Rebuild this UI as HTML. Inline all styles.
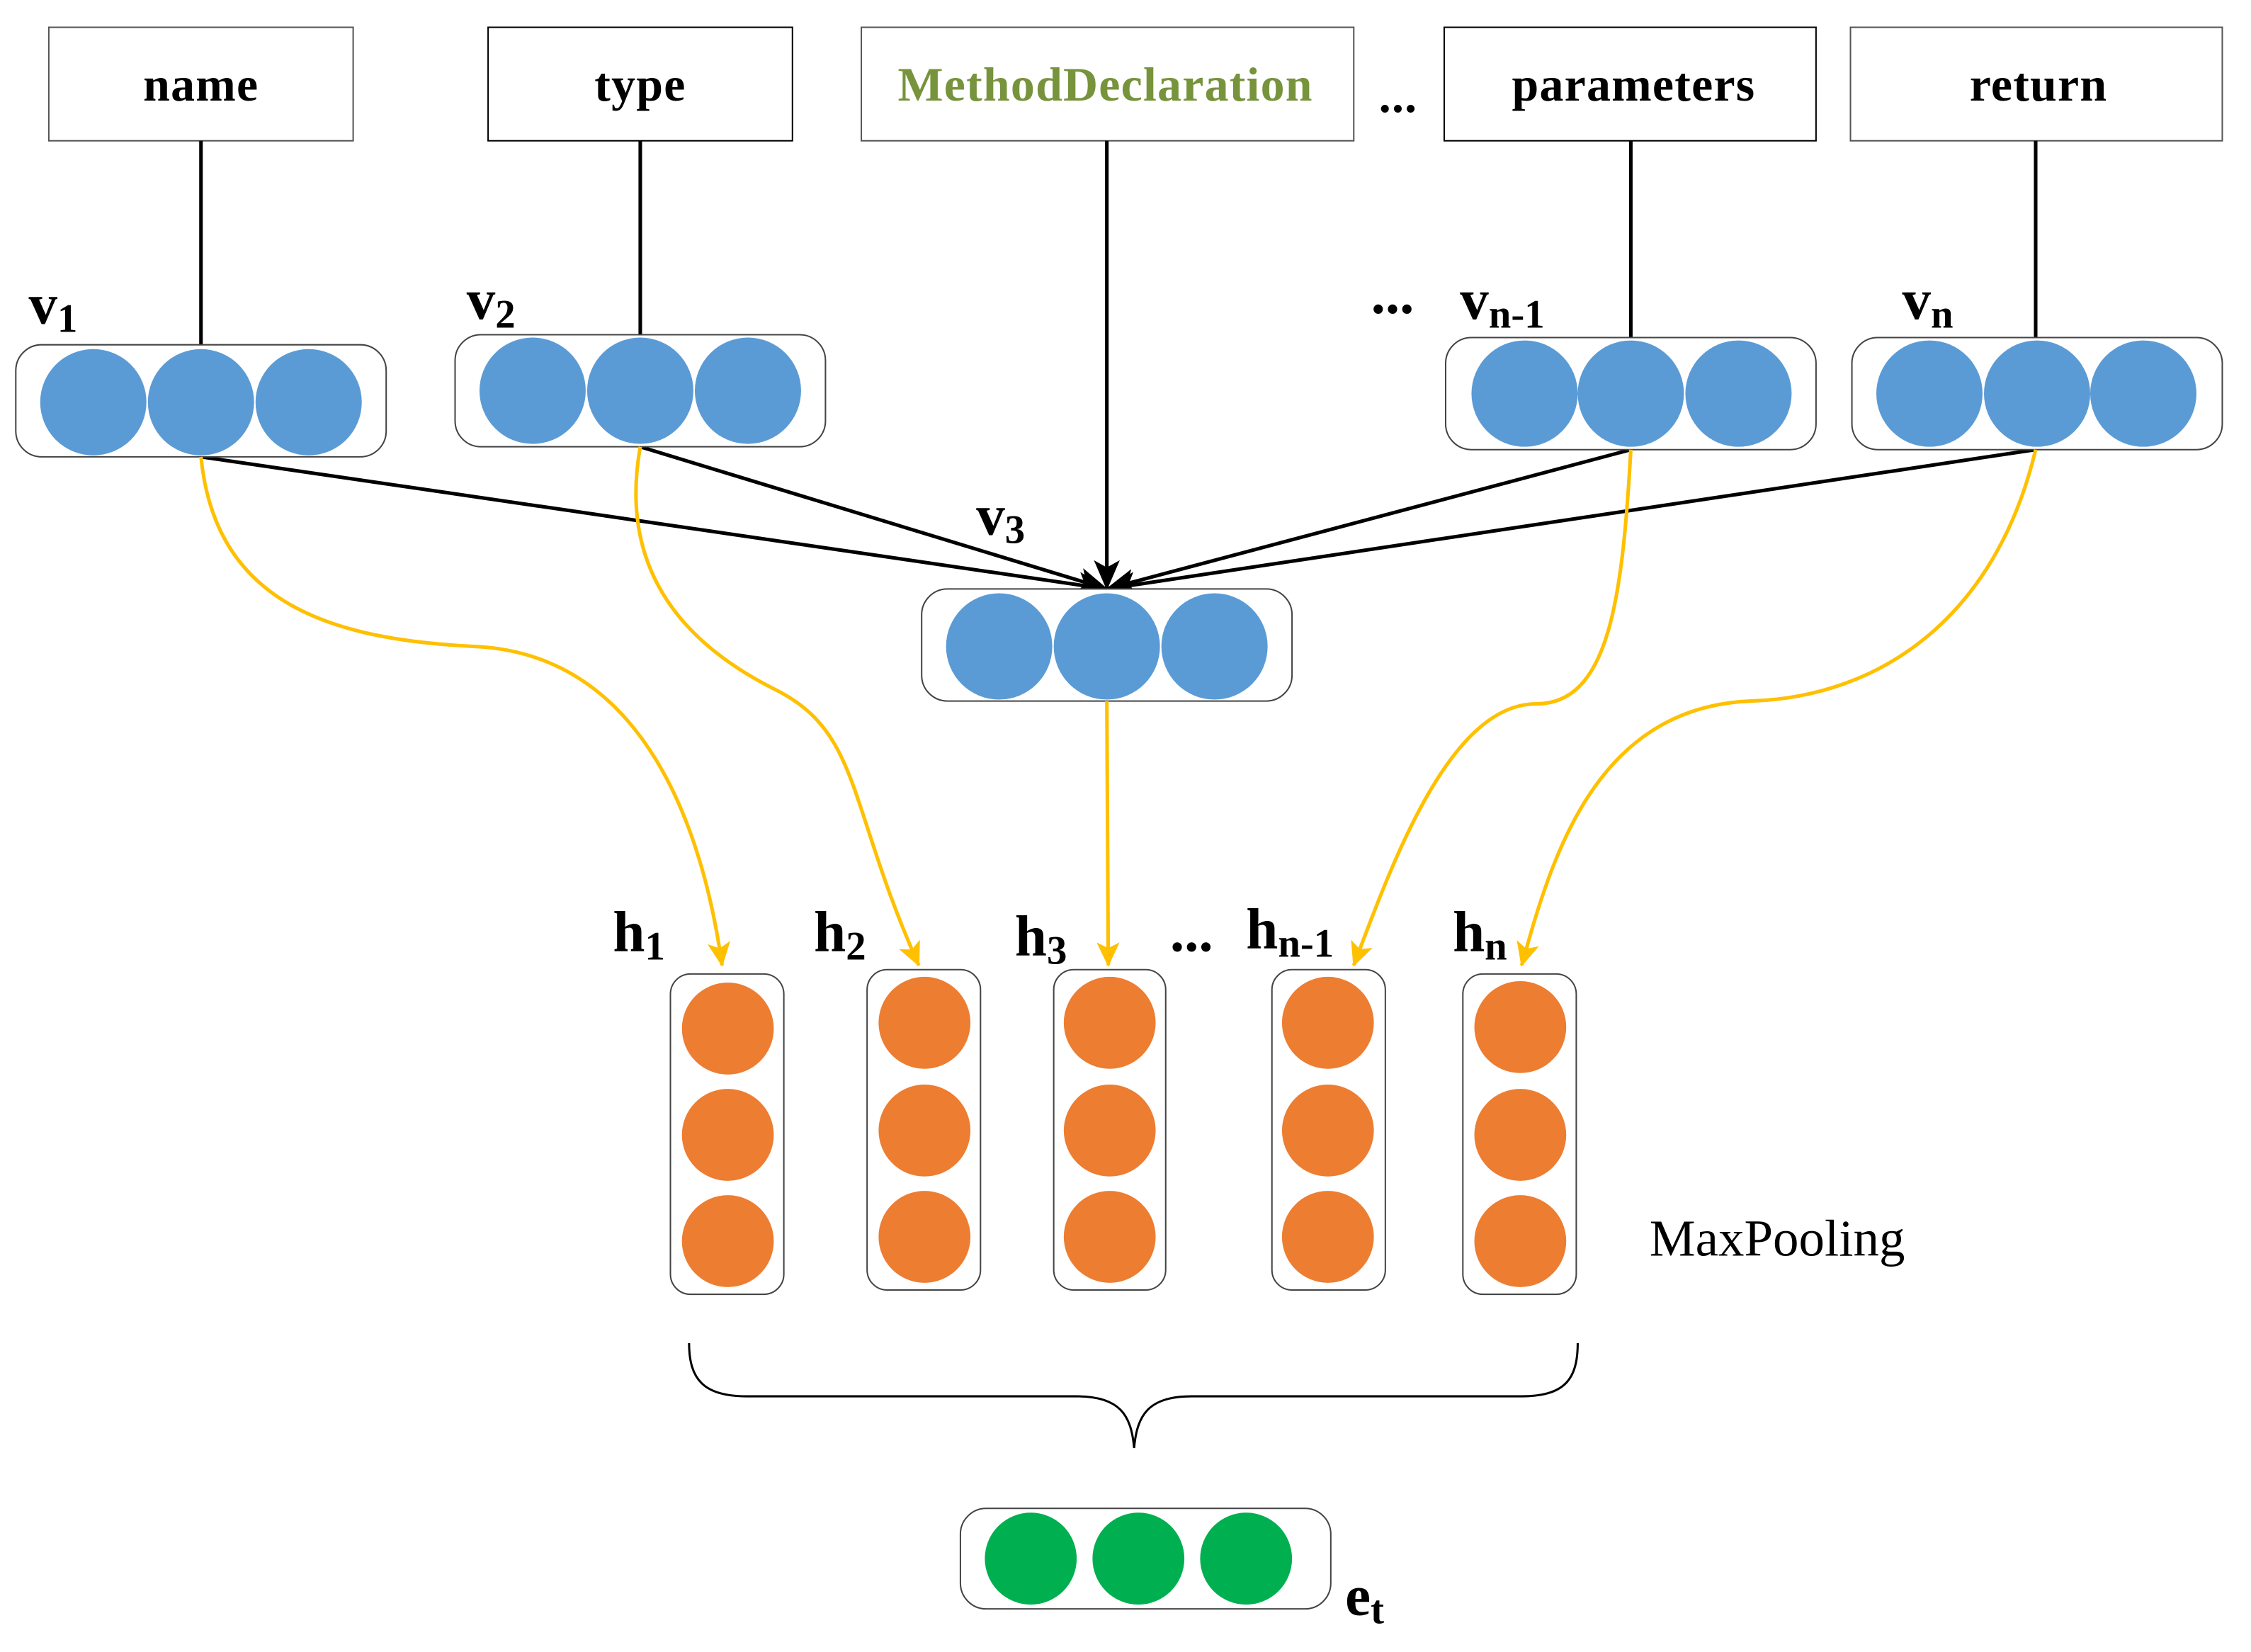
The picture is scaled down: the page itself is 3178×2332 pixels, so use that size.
<!DOCTYPE html>
<html><head><meta charset="utf-8"><style>
html,body{margin:0;padding:0;background:#fff;}
svg{display:block;}
text{font-family:"Liberation Serif",serif;}
</style></head><body>
<svg width="3178" height="2332" viewBox="0 0 1568 1150" preserveAspectRatio="none" xmlns="http://www.w3.org/2000/svg">
<defs>
<marker id="ao" markerWidth="18" markerHeight="18" refX="16" refY="9" orient="auto" markerUnits="userSpaceOnUse"><path d="M0,1 L17,9 L0,17 L4,9 z" fill="#FFC000"/></marker>
<marker id="abk" markerWidth="22" markerHeight="22" refX="20" refY="11" orient="auto" markerUnits="userSpaceOnUse"><path d="M0,2 L21,11 L0,20 L5,11 z" fill="#000"/></marker>
</defs>
<g fill="#fff" stroke="#555" stroke-width="1">
<rect x="34" y="19" width="212" height="79"/>
<rect x="340" y="19" width="212" height="79" stroke="#000"/>
<rect x="600" y="19" width="343" height="79"/>
<rect x="1006" y="19" width="259" height="79" stroke="#000"/>
<rect x="1289" y="19" width="259" height="79"/>
</g>
<g font-weight="bold" font-size="33.5" text-anchor="middle" letter-spacing="0.6">
<text x="140" y="70">name</text>
<text x="446" y="70">type</text>
<text x="770" y="70" fill="#77933C">MethodDeclaration</text>
<text x="1138" y="70">parameters</text>
<text x="1420" y="70">return</text>
<text x="974" y="78">...</text>
</g>
<g stroke="#000" stroke-width="2.5">
<line x1="140" y1="98" x2="140" y2="243"/>
<line x1="446" y1="98" x2="446" y2="236"/>
<line x1="1136" y1="98" x2="1136" y2="238"/>
<line x1="1418" y1="98" x2="1418" y2="238"/>
<line x1="771" y1="98" x2="771" y2="410" marker-end="url(#abk)"/>
<line x1="140" y1="318" x2="771" y2="410" marker-end="url(#abk)"/>
<line x1="446" y1="311" x2="771" y2="410" marker-end="url(#abk)"/>
<line x1="1136" y1="313" x2="771" y2="410" marker-end="url(#abk)"/>
<line x1="1418" y1="313" x2="771" y2="410" marker-end="url(#abk)"/>
</g>
<g fill="#fff" stroke="#444" stroke-width="1">
<rect x="11" y="240" width="258" height="78" rx="18"/>
<rect x="317" y="233" width="258" height="78" rx="18"/>
<rect x="1007" y="235" width="258" height="78" rx="18"/>
<rect x="1290" y="235" width="258" height="78" rx="18"/>
<rect x="642" y="410" width="258" height="78" rx="18"/>
</g>
<g fill="#5B9BD5">
<circle cx="65" cy="280" r="37"/><circle cx="140" cy="280" r="37"/><circle cx="215" cy="280" r="37"/>
<circle cx="371" cy="272" r="37"/><circle cx="446" cy="272" r="37"/><circle cx="521" cy="272" r="37"/>
<circle cx="1062" cy="274" r="37"/><circle cx="1136" cy="274" r="37"/><circle cx="1211" cy="274" r="37"/>
<circle cx="1344" cy="274" r="37"/><circle cx="1419" cy="274" r="37"/><circle cx="1493" cy="274" r="37"/>
<circle cx="696" cy="450" r="37"/><circle cx="771" cy="450" r="37"/><circle cx="846" cy="450" r="37"/>
</g>
<g font-weight="bold" font-size="40">
<text x="20" y="225">v<tspan font-size="28" dy="6">1</tspan></text>
<text x="325" y="222">v<tspan font-size="28" dy="6">2</tspan></text>
<text x="680" y="372">v<tspan font-size="28" dy="6">3</tspan></text>
<text x="955" y="218">...</text>
<text x="1017" y="222">v<tspan font-size="28" dy="6">n-1</tspan></text>
<text x="1325" y="222">v<tspan font-size="28" dy="6">n</tspan></text>
</g>
<g fill="none" stroke="#FFC000" stroke-width="2.5">
<path d="M140,318 C150,420 230,445 330,450 C450,455 490,580 503,672" marker-end="url(#ao)"/>
<path d="M446,311 C430,400 480,450 540,480 C600,510 590,560 640,672" marker-end="url(#ao)"/>
<path d="M771,488 L772,672" marker-end="url(#ao)"/>
<path d="M1136,313 C1130,420 1120,490 1070,490 C1010,490 970,600 943,672" marker-end="url(#ao)"/>
<path d="M1418,313 C1390,430 1310,485 1220,488 C1110,492 1080,600 1060,672" marker-end="url(#ao)"/>
</g>
<g fill="#fff" stroke="#444" stroke-width="1">
<rect x="467" y="678" width="79" height="223" rx="14"/>
<rect x="604" y="675" width="79" height="223" rx="14"/>
<rect x="734" y="675" width="78" height="223" rx="14"/>
<rect x="886" y="675" width="79" height="223" rx="14"/>
<rect x="1019" y="678" width="79" height="223" rx="14"/>
</g>
<g fill="#ED7D31">
<circle cx="507" cy="716" r="32"/><circle cx="507" cy="790" r="32"/><circle cx="507" cy="864" r="32"/>
<circle cx="644" cy="712" r="32"/><circle cx="644" cy="787" r="32"/><circle cx="644" cy="861" r="32"/>
<circle cx="773" cy="712" r="32"/><circle cx="773" cy="787" r="32"/><circle cx="773" cy="861" r="32"/>
<circle cx="925" cy="712" r="32"/><circle cx="925" cy="787" r="32"/><circle cx="925" cy="861" r="32"/>
<circle cx="1059" cy="715" r="32"/><circle cx="1059" cy="790" r="32"/><circle cx="1059" cy="864" r="32"/>
</g>
<g font-weight="bold" font-size="40">
<text x="427" y="662">h<tspan font-size="28" dy="6">1</tspan></text>
<text x="567" y="662">h<tspan font-size="28" dy="6">2</tspan></text>
<text x="707" y="665">h<tspan font-size="28" dy="6">3</tspan></text>
<text x="815" y="662">...</text>
<text x="868" y="660">h<tspan font-size="28" dy="6">n-1</tspan></text>
<text x="1012" y="662">h<tspan font-size="28" dy="6">n</tspan></text>
</g>
<text x="1149" y="874" font-size="36">MaxPooling</text>
<path d="M480,935 C480,960 490,972 520,972 L750,972 C780,972 788,985 790,1008 C792,985 800,972 830,972 L1060,972 C1090,972 1099,960 1099,935" fill="none" stroke="#000" stroke-width="1.5"/>
<rect x="669" y="1050" width="258" height="70" rx="18" fill="#fff" stroke="#444" stroke-width="1"/>
<g fill="#00B050">
<circle cx="718" cy="1085" r="32"/><circle cx="793" cy="1085" r="32"/><circle cx="868" cy="1085" r="32"/>
</g>
<text x="937" y="1124" font-weight="bold" font-size="40">e<tspan font-size="28" dy="6">t</tspan></text>
</svg>
</body></html>
